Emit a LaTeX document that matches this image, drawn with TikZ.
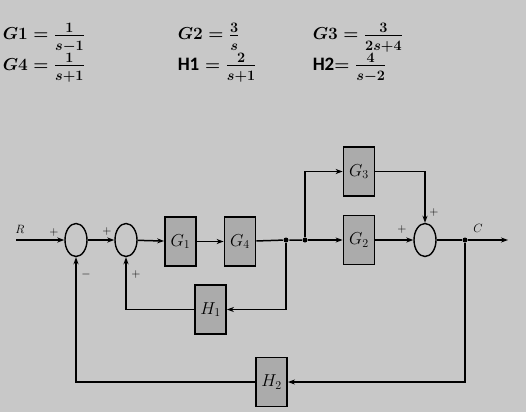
\documentclass[tikz,border=0pt]{standalone}
\usepackage{fontspec}
\newfontfamily\calfont{Carlito}
\usetikzlibrary{shapes.geometric,arrows.meta}
\definecolor{bgcol}{HTML}{C8C8C8}
\definecolor{boxcol}{HTML}{ABABAB}
\DeclareMathSizes{19}{19}{14}{10}
% fraction with the denominator set a little lower
\newcommand{\tf}[2]{\frac{#1}{\lower4pt\hbox{$\scriptstyle #2$}}}
\begin{document}
\begin{tikzpicture}[x=1pt,y=-1pt,line width=1.5pt,
  >={Stealth[length=7pt,width=5pt]},
  blk/.style={draw, line width=1.8pt, fill=boxcol, minimum width=31pt, minimum height=49pt, inner sep=0pt, font=\fontsize{17}{17}\selectfont},
  sum/.style={draw, ellipse, line width=1.4pt, fill=bgcol, minimum width=22pt, minimum height=33pt, inner sep=0pt},
  dot/.style={circle, fill, inner sep=0pt, minimum size=5pt},
  sig/.style={font=\fontsize{12}{12}\selectfont, inner sep=0pt},
  eq/.style={anchor=base west, inner sep=0pt, font=\fontsize{19}{19}\selectfont\boldmath}]
        \useasboundingbox (0,0) rectangle (526,412);
        \fill[bgcol] (0,0) rectangle (526,412);

        \node[eq] at (2,40) (eqg1) {$G1 = \tf{1}{s-1}$};
        \node[eq] at (177,40) (eqg2) {$G2 = \tf{3}{s}$};
        \node[eq] at (312,40) (eqg3) {$G3 = \tf{3}{2s+4}$};
        \node[eq] at (2,70) (eqg4) {$G4 = \tf{1}{s+1}$};
        \node[eq] at (177,70) (eqh1) {{\calfont\bfseries H1} $= \tf{2}{s+1}$};
        \node[eq] at (312,70) (eqh2) {{\calfont\bfseries H2}$=$ $\tf{4}{s-2}$};

        \node[sum] at (76,240) (s1) {};
        \node[sum] at (126,240) (s2) {};
        \node[blk] at (180.5,241.5) (g1) {$G_1$};
        \node[blk] at (240,241.5) (g4) {$G_4$};
        \node[dot] at (286,240) (b1) {};
        \node[dot] at (305,240) (b2) {};
        \node[blk] at (359,171.5) (g3) {$G_3$};
        \node[blk] at (359,240) (g2) {$G_2$};
        \node[sum] at (425,240) (s3) {};
        \node[dot] at (465,240) (b3) {};
        \node[blk] at (210.5,309.5) (h1) {$H_1$};
        \node[blk] at (271.5,382) (h2) {$H_2$};
        \coordinate (in) at (16,240);
        \coordinate (out) at (508,240);
        \node[sig] at (20,229) (r) {$R$};
        \node[sig] at (478,228) (c) {$C$};

        \node[sig] at (54,232) (p1) {$+$};
        \node[sig] at (86,274) (m1) {$-$};
        \node[sig] at (107,231) (p2) {$+$};
        \node[sig] at (136,274) (p3) {$+$};
        \node[sig] at (402,229) (p4) {$+$};
        \node[sig] at (434,212) (p5) {$+$};

        \draw[->] (in)--(s1);
        \draw[->] (s1)--(s2);
        \draw[->] (s2)--(g1);
        \draw[->] (g1)--(g4);
        \draw (g4)--(b1)--(b2);
        \draw[->] (b2)--(g2);
        \draw[->] (b2) |- (g3);
        \draw[->] (g2)--(s3);
        \draw[->] (g3) -| (s3);
        \draw (s3)--(b3);
        \draw[->] (b3)--(out);
        \draw[->] (b1) |- (h1);
        \draw[->] (h1) -| (s2);
        \draw[->] (b3) |- (h2);
        \draw[->] (h2) -| (s1);
      \end{tikzpicture}
\end{document}
